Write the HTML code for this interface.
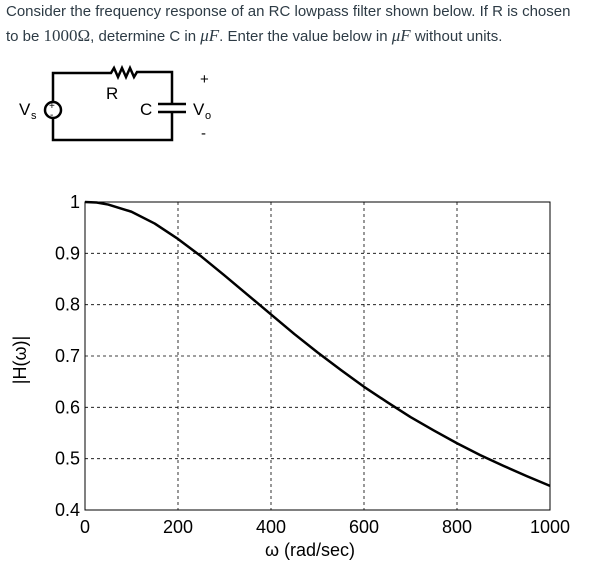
<!DOCTYPE html>
<html><head><meta charset="utf-8"><style>
body{margin:0;background:#fff;width:602px;height:581px;overflow:hidden;font-family:"Liberation Sans",sans-serif}
.q{position:absolute;left:6px;font-size:15px;color:#2d3b45;white-space:nowrap}
.m{font-family:"Liberation Serif",serif;font-size:17px}
</style></head><body>
<div class="q" style="top:3px">Consider the frequency response of an RC lowpass filter shown below. If R is chosen</div>
<div class="q" style="top:26px">to be <span class="m">1000Ω</span>, determine C in <span class="m"><i>μF</i></span>. Enter the value below in <span class="m"><i>μF</i></span> without units.</div>
<svg width="602" height="581" style="position:absolute;left:0;top:0">
<g stroke="#000" stroke-width="2.5" fill="none">
<path d="M53 102 V73 H111 l3 -5 l4 9 l4 -9 l4 9 l4 -9 l4 9 l3 -5 H172 V104 M172 112 V140 H53 V119"/>
<line x1="158" y1="104" x2="186" y2="104"/><line x1="158" y1="112" x2="186" y2="112"/>
<circle cx="53" cy="110" r="8"/>
</g>
<g font-family="Liberation Sans,sans-serif" font-size="17" fill="#000">
<text x="106" y="99">R</text><text x="140" y="115">C</text>
<text x="193" y="115">V</text><text x="205" y="119" font-size="11">o</text>
<text x="200" y="84" font-size="15">+</text><text x="201" y="138" font-size="15">-</text>
<text x="19" y="115">V</text><text x="31" y="119" font-size="11">s</text>
<text x="49" y="109" font-size="10">+</text><text x="50" y="118" font-size="10">-</text>
</g>
<g id="chart"></g>
</svg>
<script>
const xVals=[0,25,50,100,150,200,250,300,350,400,450,500,550,600,650,700,750,800,850,900,950,1000];
const hVals=[1,0.999,0.995,0.981,0.958,0.928,0.894,0.857,0.819,0.781,0.743,0.707,0.673,0.640,0.610,0.581,0.555,0.530,0.507,0.486,0.466,0.447];
const xTicks=[0,200,400,600,800,1000];
const yTicks=[0.4,0.5,0.6,0.7,0.8,0.9,1];
const yTickLabels=["0.4","0.5","0.6","0.7","0.8","0.9","1"];
const L=85,R=550,T=202,B=510;
const sx=v=>L+(v-0)/1000*(R-L), sy=v=>B-(v-0.4)/0.6*(B-T);
const NS="http://www.w3.org/2000/svg", g=document.getElementById('chart');
function mk(t,a){const e=document.createElementNS(NS,t);for(const k in a)e.setAttribute(k,a[k]);g.appendChild(e);return e;}
const bg=mk('rect',{x:L,y:T,width:R-L,height:B-T,fill:'#fff',stroke:'none'});


xTicks.forEach((v,i)=>{
 if(v>0&&v<1000){const l=mk('line',{x1:sx(v),x2:sx(v),y1:T,y2:B,stroke:'#000','stroke-width':0.8,'stroke-dasharray':'3,3'});
 
 }
 const t=mk('text',{x:sx(v),y:B+23,'text-anchor':'middle','font-size':18,fill:'#000'});t.textContent=String(v);
 
 
});
yTicks.forEach((v,i)=>{
 if(v>0.4&&v<1){const l=mk('line',{x1:L,x2:R,y1:sy(v),y2:sy(v),stroke:'#000','stroke-width':0.8,'stroke-dasharray':'3,3'});
 
 }
 const t=mk('text',{x:L-5,y:sy(v)+6,'text-anchor':'end','font-size':18,fill:'#000'});t.textContent=yTickLabels[i];
 
 
});
const fr=mk('rect',{x:L,y:T,width:R-L,height:B-T,fill:'none',stroke:'#000','stroke-width':1});


const p=mk('polyline',{points:xVals.map((x,i)=>sx(x)+','+sy(hVals[i])).join(' '),fill:'none',stroke:'#000','stroke-width':2.5,'stroke-linejoin':'round'});


const xl=mk('text',{x:310,y:556,'text-anchor':'middle','font-size':18,fill:'#000'});xl.textContent='ω (rad/sec)';


const yl=mk('text',{x:0,y:0,'text-anchor':'middle','font-size':18,fill:'#000',transform:'translate(26,360) rotate(-90)'});yl.textContent='|H(ω)|';


</script>
</body></html>
